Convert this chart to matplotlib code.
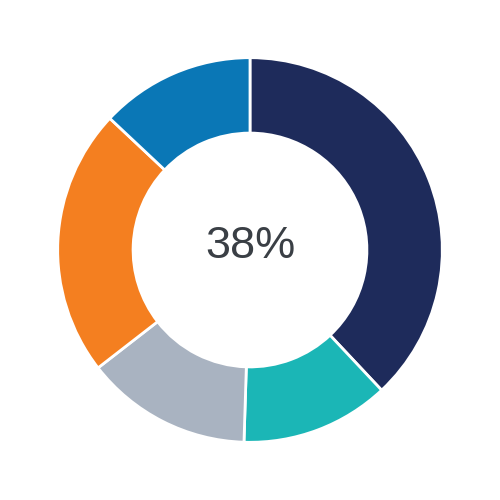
import matplotlib
matplotlib.use("Agg")
import matplotlib.pyplot as plt

labels = ["A", "B", "C", "D", "E"]
values = [38, 12.5, 14, 22.5, 13]
colors = ["#1e2b5b", "#1bb6b6", "#a9b3c1", "#f47f20", "#0a77b6"]
center_label = "38%"

fig = plt.figure(figsize=(5, 5), dpi=100)
ax = fig.add_axes([0, 0, 1, 1])
ax.pie(values, colors=colors, startangle=90, counterclock=False,
       radius=1.0, wedgeprops=dict(width=0.392, edgecolor="white", linewidth=2))
ax.text(0, 0.02, center_label, ha="center", va="center", fontsize=32.5,
        family="Liberation Sans", color="#3a3f45")
ax.set_xlim(-1.3, 1.3)
ax.set_ylim(-1.3, 1.3)
ax.set_aspect("equal")
ax.axis("off")
fig.savefig("out.png", dpi=100, facecolor="white")
